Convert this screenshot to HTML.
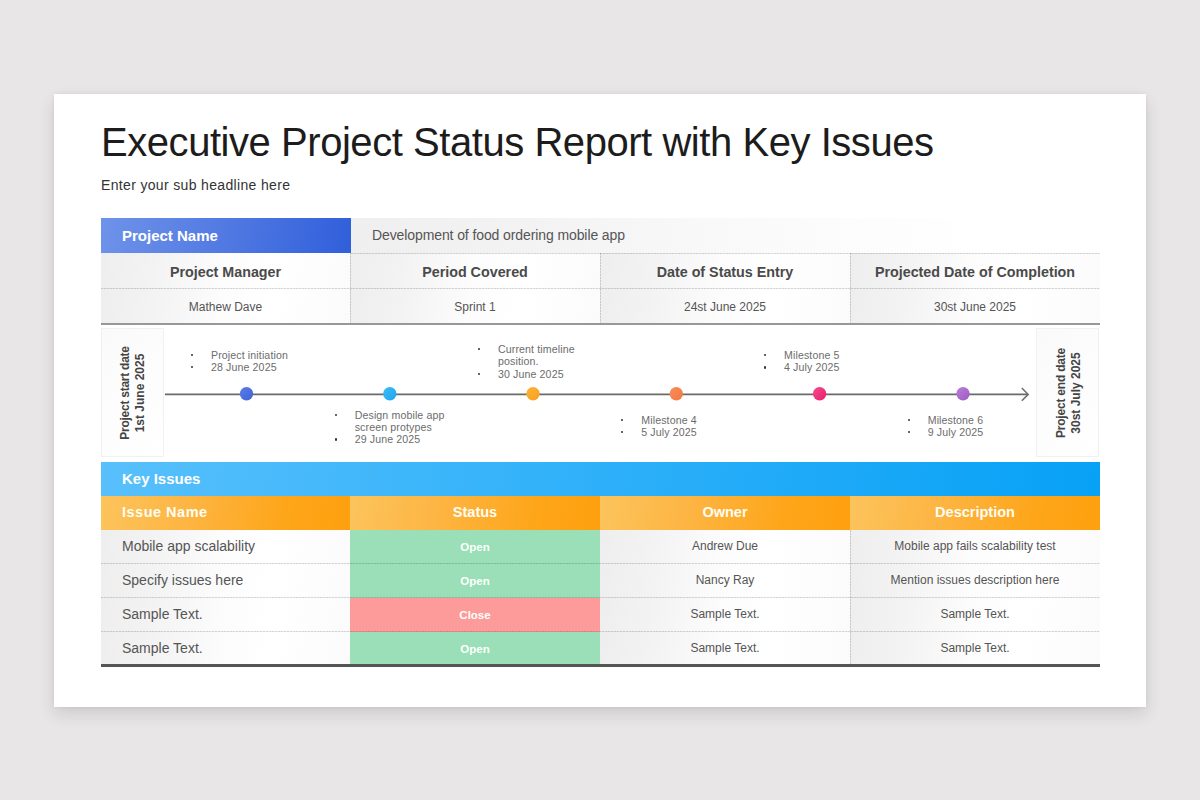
<!DOCTYPE html>
<html><head><meta charset="utf-8">
<style>
*{margin:0;padding:0;box-sizing:border-box}
html,body{width:1200px;height:800px;overflow:hidden;background:#e8e6e7;font-family:"Liberation Sans",sans-serif}
.slide{position:absolute;left:54px;top:94px;width:1092px;height:613px;background:#fff;box-shadow:0 7px 16px rgba(0,0,0,.12),0 0 5px rgba(0,0,0,.06)}
.a{position:absolute;white-space:nowrap}
#title{left:101px;top:117.6px;font-size:40px;letter-spacing:-.45px;color:#1c1c1c;line-height:48px}
#sub{left:101px;top:176px;font-size:14px;letter-spacing:.34px;color:#333;line-height:18px}
.cell{position:absolute;background:linear-gradient(100deg,#eeeeee 0%,#f3f3f3 22%,#fcfcfc 48%,#fff 68%,#fbfbfb 100%)}
.ct{position:absolute;left:0;right:0;text-align:center;white-space:nowrap}
.hd{font-weight:bold;font-size:14.3px;color:#4a4a4a;top:2px;line-height:35px}
.vl{font-size:12px;color:#555;top:2px;line-height:35px}
.dh{position:absolute;height:1px;background:repeating-linear-gradient(to right,rgba(0,0,0,.16) 0 2px,rgba(0,0,0,.07) 2px 3px)}
.dv{position:absolute;width:1px;background:repeating-linear-gradient(to bottom,rgba(0,0,0,.16) 0 2px,rgba(0,0,0,.05) 2px 3px)}
.rot{transform:translate(-50%,-50%) rotate(-90deg);font-weight:bold;font-size:12px;line-height:14.5px;color:#444;text-align:center}
.lbl{position:absolute;padding-left:19px;font-size:10.6px;letter-spacing:.12px;line-height:12.4px;color:#6c6c6c;white-space:nowrap}
.lbl i{position:absolute;left:-1px;width:2.2px;height:2.2px;border-radius:50%;background:#333}
.oh{position:absolute;top:496px;height:34px;line-height:32px;font-size:14.5px;font-weight:bold;color:#fffdf3;background:linear-gradient(100deg,#fcc45c 0%,#fdb543 35%,#fea518 75%,#fea00f 100%)}
.rw{height:34px}
.lt{position:absolute;left:21px;top:-1px;line-height:34px;font-size:14px;color:#555;white-space:nowrap}
.rv{line-height:34px;font-size:12px;color:#555;top:-.8px}
.st{height:34px;line-height:34px;text-align:center;font-size:11.5px;font-weight:bold;color:#fbfffc}
</style></head><body>
<div class="slide"></div>
<div class="a" id="title">Executive Project Status Report with Key Issues</div>
<div class="a" id="sub">Enter your sub headline here</div>
<div class="a" style="left:101px;top:218px;width:250px;height:35px;background:linear-gradient(100deg,#6f93ea 0%,#5179e2 50%,#305fdb 100%)"></div>
<div class="a" style="left:122px;top:218px;line-height:35px;font-size:15px;font-weight:bold;color:#fff">Project Name</div>
<div class="a" style="left:351px;top:218px;width:749px;height:35px;background:linear-gradient(to right,#efefef 0%,#f3f3f3 25%,#f8f8f8 45%,#fcfcfc 65%,#fff 85%)"></div>
<div class="a" style="left:372px;top:218px;line-height:35px;font-size:14px;letter-spacing:-.1px;color:#555">Development of food ordering mobile app</div>
<div class="cell" style="left:101px;top:253px;width:249px;height:35px"><div class="ct hd">Project Manager</div></div>
<div class="cell" style="left:350px;top:253px;width:250px;height:35px"><div class="ct hd">Period Covered</div></div>
<div class="cell" style="left:600px;top:253px;width:250px;height:35px"><div class="ct hd">Date of Status Entry</div></div>
<div class="cell" style="left:850px;top:253px;width:250px;height:35px"><div class="ct hd">Projected Date of Completion</div></div>
<div class="cell" style="left:101px;top:288px;width:249px;height:35px"><div class="ct vl">Mathew Dave</div></div>
<div class="cell" style="left:350px;top:288px;width:250px;height:35px"><div class="ct vl">Sprint 1</div></div>
<div class="cell" style="left:600px;top:288px;width:250px;height:35px"><div class="ct vl">24st June 2025</div></div>
<div class="cell" style="left:850px;top:288px;width:250px;height:35px"><div class="ct vl">30st June 2025</div></div>
<div class="dh" style="left:351px;top:253px;width:749px"></div>
<div class="dh" style="left:101px;top:288px;width:999px"></div>
<div class="dv" style="left:350px;top:253px;height:70px"></div>
<div class="dv" style="left:600px;top:253px;height:70px"></div>
<div class="dv" style="left:850px;top:253px;height:70px"></div>
<div class="a" style="left:101px;top:323px;width:999px;height:2px;background:#989898"></div>
<div class="a" style="left:101px;top:328px;width:63px;height:129px;border:1px solid #f1f1f1;background:linear-gradient(135deg,#fafafa,#fff)"></div>
<div class="a" style="left:1036px;top:328px;width:63px;height:129px;border:1px solid #f1f1f1;background:linear-gradient(135deg,#fafafa,#fff)"></div>
<div class="a rot" style="left:131.7px;top:393px"><span style="letter-spacing:-.25px">Project start date</span><br>1st June 2025</div>
<div class="a rot" style="left:1068px;top:393px"><span style="letter-spacing:-.2px">Project end date</span><br>30st July 2025</div>
<svg class="a" style="left:0;top:0" width="1200" height="800" viewBox="0 0 1200 800">
<line x1="165" y1="394.4" x2="1028" y2="394.4" stroke="#6a6a6a" stroke-width="1.6"/>
<polyline points="1021.8,388 1028.2,394.4 1021.8,400.8" fill="none" stroke="#6e6e6e" stroke-width="1.5"/>
<defs>
<linearGradient id="g0" x1="0" y1="0" x2="1" y2="1"><stop offset="0" stop-color="#5b7fe6"/><stop offset="1" stop-color="#3d62d6"/></linearGradient>
<linearGradient id="g1" x1="0" y1="0" x2="1" y2="1"><stop offset="0" stop-color="#3cbcf7"/><stop offset="1" stop-color="#1ea6ee"/></linearGradient>
<linearGradient id="g2" x1="0" y1="0" x2="1" y2="1"><stop offset="0" stop-color="#fdb33a"/><stop offset="1" stop-color="#f8a020"/></linearGradient>
<linearGradient id="g3" x1="0" y1="0" x2="1" y2="1"><stop offset="0" stop-color="#fb8b5a"/><stop offset="1" stop-color="#f37a43"/></linearGradient>
<linearGradient id="g4" x1="0" y1="0" x2="1" y2="1"><stop offset="0" stop-color="#f74a8c"/><stop offset="1" stop-color="#e91f6d"/></linearGradient>
<linearGradient id="g5" x1="0" y1="0" x2="1" y2="1"><stop offset="0" stop-color="#bb7ed8"/><stop offset="1" stop-color="#9c5cc2"/></linearGradient>
</defs>
<circle cx="246.5" cy="393.7" r="6.7" fill="url(#g0)"/>
<circle cx="389.8" cy="393.7" r="6.7" fill="url(#g1)"/>
<circle cx="533" cy="393.7" r="6.7" fill="url(#g2)"/>
<circle cx="676.3" cy="393.7" r="6.7" fill="url(#g3)"/>
<circle cx="819.6" cy="393.7" r="6.7" fill="url(#g4)"/>
<circle cx="963" cy="393.7" r="6.7" fill="url(#g5)"/>
</svg>
<div class="lbl" style="left:192px;top:348.6px"><i style="top:5.0px"></i><i style="top:17.4px"></i>Project initiation<br>28 June 2025</div>
<div class="lbl" style="left:335.7px;top:408.6px"><i style="top:5.0px"></i><i style="top:29.8px"></i>Design mobile app<br>screen protypes<br>29 June 2025</div>
<div class="lbl" style="left:479px;top:343px"><i style="top:5.0px"></i><i style="top:29.8px"></i>Current timeline<br>position.<br>30 June 2025</div>
<div class="lbl" style="left:622.3px;top:413.8px"><i style="top:5.0px"></i><i style="top:17.4px"></i>Milestone 4<br>5 July 2025</div>
<div class="lbl" style="left:765px;top:349px"><i style="top:5.0px"></i><i style="top:17.4px"></i>Milestone 5<br>4 July 2025</div>
<div class="lbl" style="left:908.7px;top:413.8px"><i style="top:5.0px"></i><i style="top:17.4px"></i>Milestone 6<br>9 July 2025</div>
<div class="a" style="left:101px;top:462px;width:999px;height:34px;background:linear-gradient(100deg,#58c0fc 0%,#2eb0f9 50%,#07a1f6 100%)"></div>
<div class="a" style="left:122px;top:462px;line-height:34px;font-size:15px;font-weight:bold;color:#fff">Key Issues</div>
<div class="oh" style="left:101px;width:249px"><span style="left:21px;position:absolute;letter-spacing:.5px">Issue Name</span></div>
<div class="oh" style="left:350px;width:250px;text-align:center">Status</div>
<div class="oh" style="left:600px;width:250px;text-align:center">Owner</div>
<div class="oh" style="left:850px;width:250px;text-align:center">Description</div>
<div class="cell rw" style="left:101px;top:530px;width:249px"><span class="lt">Mobile app scalability</span></div>
<div class="a st" style="left:350px;top:530px;width:250px;background:#9adfb8">Open</div>
<div class="cell rw" style="left:600px;top:530px;width:250px"><div class="ct rv">Andrew Due</div></div>
<div class="cell rw" style="left:850px;top:530px;width:250px"><div class="ct rv">Mobile app fails scalability test</div></div>
<div class="cell rw" style="left:101px;top:564px;width:249px"><span class="lt">Specify issues here</span></div>
<div class="a st" style="left:350px;top:564px;width:250px;background:#9adfb8">Open</div>
<div class="cell rw" style="left:600px;top:564px;width:250px"><div class="ct rv">Nancy Ray</div></div>
<div class="cell rw" style="left:850px;top:564px;width:250px"><div class="ct rv">Mention issues description here</div></div>
<div class="dh" style="left:101px;top:563px;width:999px"></div>
<div class="cell rw" style="left:101px;top:598px;width:249px"><span class="lt">Sample Text.</span></div>
<div class="a st" style="left:350px;top:598px;width:250px;background:#fd9a9a">Close</div>
<div class="cell rw" style="left:600px;top:598px;width:250px"><div class="ct rv">Sample Text.</div></div>
<div class="cell rw" style="left:850px;top:598px;width:250px"><div class="ct rv">Sample Text.</div></div>
<div class="dh" style="left:101px;top:597px;width:999px"></div>
<div class="cell rw" style="left:101px;top:632px;width:249px"><span class="lt">Sample Text.</span></div>
<div class="a st" style="left:350px;top:632px;width:250px;background:#9adfb8">Open</div>
<div class="cell rw" style="left:600px;top:632px;width:250px"><div class="ct rv">Sample Text.</div></div>
<div class="cell rw" style="left:850px;top:632px;width:250px"><div class="ct rv">Sample Text.</div></div>
<div class="dh" style="left:101px;top:631px;width:999px"></div>
<div class="dv" style="left:850px;top:530px;height:134px"></div>
<div class="a" style="left:101px;top:664px;width:999px;height:2.5px;background:#555"></div>
</body></html>
